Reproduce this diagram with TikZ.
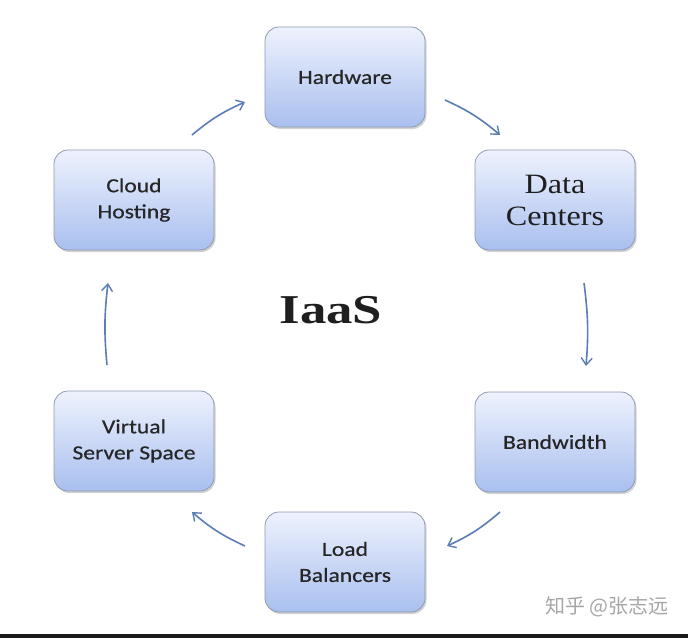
\documentclass[tikz,border=0pt]{standalone}
\usepackage{fontspec}
\setmainfont{Liberation Serif}
\newfontfamily\widefont[FakeStretch=1.15]{Liberation Serif}
\newfontfamily\boxfont[FakeStretch=1.18,FakeBold=0.6]{Carlito}
\newfontfamily\cjk{Noto Sans CJK SC}
\usetikzlibrary{shadows,arrows.meta}
\definecolor{boxtop}{HTML}{EEF2FD}
\definecolor{boxbot}{HTML}{A9BFEF}
\definecolor{boxline}{HTML}{8E9AB0}
\definecolor{arr}{HTML}{5A7DB3}
\tikzset{
  iaasbox/.style={rectangle, rounded corners=14pt, minimum width=160pt, minimum height=100pt,
    draw=boxline, line width=0.8pt, top color=boxtop, bottom color=boxbot,
    drop shadow={shadow xshift=1.5pt, shadow yshift=-2pt, opacity=0.35, fill=gray},
    align=center, font=\boxfont\fontsize{20}{26}\selectfont, text=black!85},
  serifbox/.style={iaasbox, font=\widefont\fontsize{28}{32}\selectfont, text=black!88},
  cyc/.style={draw=arr, line width=1.6pt, -{Straight Barb[length=7pt,width=11pt,line width=1.4pt]}}
}
\begin{document}
\begin{tikzpicture}[x=1pt,y=-1pt]
\useasboundingbox (0,0) rectangle (688,638);
\fill[white] (0,0) rectangle (688,638);
\fill[black!90] (0,634) rectangle (688,638);
\node[iaasbox] (hw) at (345,77) {Hardware};
\node[serifbox] (dc) at (555,200) {Data\\Centers};
\node[iaasbox] (bw) at (555,442) {Bandwidth};
\node[iaasbox] (lb) at (345,562) {Load\\Balancers};
\node[iaasbox] (vs) at (134,441) {Virtual\\Server Space};
\node[iaasbox] (ch) at (134,200) {Cloud\\Hosting};
\node[font=\widefont\bfseries\fontsize{41}{44}\selectfont, text=black!88, xscale=1.12] (iaas) at (331,310) {IaaS};
\node[font=\cjk\fontsize{20}{22}\selectfont, text=black!35, anchor=east] (wm) at (672,607) {知乎 @张志远};
\coordinate (a1s) at (192,135); \coordinate (a1e) at (245,102);
\coordinate (a2s) at (445,100); \coordinate (a2e) at (500,135);
\coordinate (a3s) at (584,283); \coordinate (a3e) at (586,366);
\coordinate (a4s) at (500,512); \coordinate (a4e) at (447,546);
\coordinate (a5s) at (245,546); \coordinate (a5e) at (192,512);
\coordinate (a6s) at (107,365); \coordinate (a6e) at (108,283);
\draw[cyc] (a1s) to[bend left=8] (a1e);
\draw[cyc] (a2s) to[bend left=8] (a2e);
\draw[cyc] (a3s) to[bend left=6] (a3e);
\draw[cyc] (a4s) to[bend left=8] (a4e);
\draw[cyc] (a5s) to[bend left=8] (a5e);
\draw[cyc] (a6s) to[bend left=6] (a6e);
\end{tikzpicture}
\end{document}
